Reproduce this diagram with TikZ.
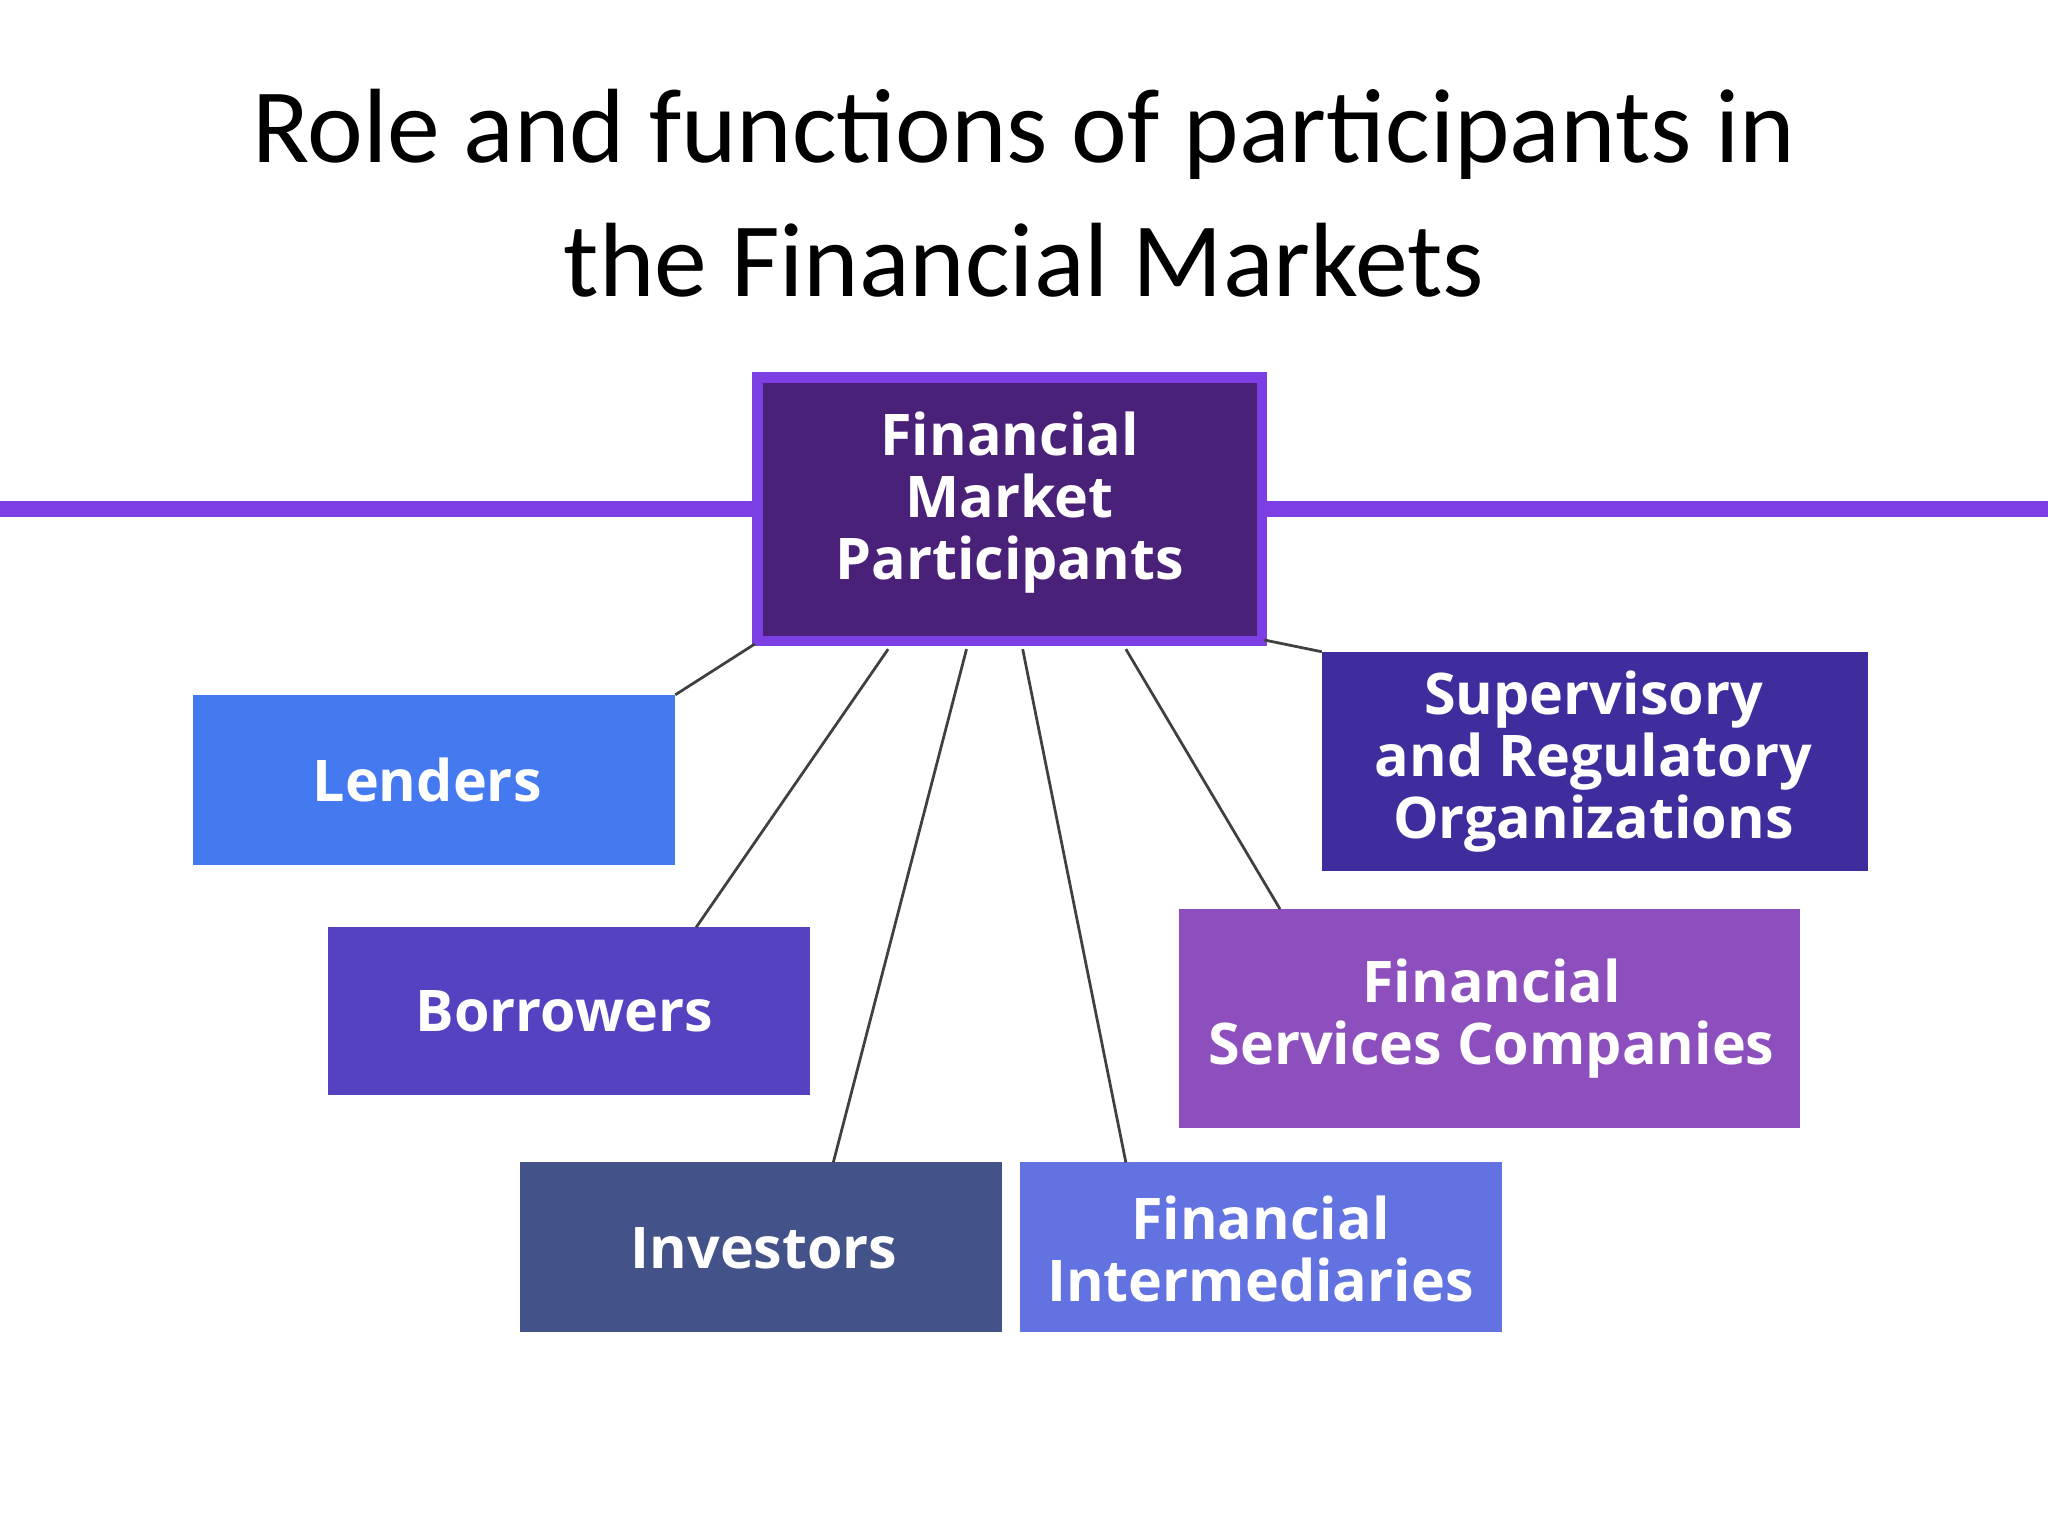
\documentclass[tikz,border=0pt]{standalone}
\usepackage{fontspec}
\setmainfont{Carlito}
\newfontfamily\boxfont{Open Sans}
\definecolor{cTop}{HTML}{4A2178}
\definecolor{cTopB}{HTML}{7B3FE4}
\definecolor{cLend}{HTML}{4479F0}
\definecolor{cBorr}{HTML}{5442C0}
\definecolor{cInv}{HTML}{435288}
\definecolor{cInt}{HTML}{6272E0}
\definecolor{cServ}{HTML}{8D4FBE}
\definecolor{cSup}{HTML}{3F2D9E}
\begin{document}
\begin{tikzpicture}[x=0.01cm,y=-0.01cm,
  pbox/.style={draw=none,text=white,font=\boxfont\bfseries\fontsize{12.5}{13.5}\selectfont,align=center,inner sep=0pt},
  link/.style={draw=black!75,line width=0.6pt}]
\useasboundingbox (0,0) rectangle (1568,1176);
\fill[white] (0,0) rectangle (1568,1176);
\node[font=\fontsize{23}{29}\selectfont,align=center] (title) at (784,148) {Role and functions of participants in\\the Financial Markets};
% boxes
\node[pbox,fill=cTop,draw=cTopB,line width=2.5pt,minimum width=390\pgflinewidth] (top) at (773,390) {};
\fill[cTop] (578,287) rectangle (968,493);
\draw[cTopB,line width=2.2pt] (580,289) rectangle (966,491);
\node[pbox] (topt) at (773,385) {Financial\\Market\\Participants};
\coordinate (tl) at (578,493);
\coordinate (t1) at (680,497);
\coordinate (t2) at (740,497);
\coordinate (t3) at (783,497);
\coordinate (t4) at (862,497);
\coordinate (tr) at (968,490);
\fill[cLend] (148,532) rectangle (517,662);
\node[pbox] (lend) at (327,597) {Lenders};
\fill[cBorr] (251,710) rectangle (620,838);
\node[pbox] (borr) at (432,774) {Borrowers};
\fill[cInv] (398,890) rectangle (767,1020);
\node[pbox] (inv) at (585,956) {Investors};
\fill[cInt] (781,890) rectangle (1150,1020);
\node[pbox] (int) at (965,956) {Financial\\Intermediaries};
\fill[cServ] (903,696) rectangle (1378,864);
\node[pbox] (serv) at (1142,780) {Financial\\Services Companies};
\fill[cSup] (1012,499) rectangle (1430,667);
\node[pbox] (sup) at (1220,583) {Supervisory\\and Regulatory\\Organizations};
\coordinate (lendc) at (517,532);
\coordinate (borrc) at (533,710);
\coordinate (invc) at (638,890);
\coordinate (intc) at (862,890);
\coordinate (servc) at (980,696);
\coordinate (supc) at (1012,499);
\draw[link] (tl) -- (lendc);
\draw[link] (t1) -- (borrc);
\draw[link] (t2) -- (invc);
\draw[link] (t3) -- (intc);
\draw[link] (t4) -- (servc);
\draw[link] (tr) -- (supc);
\end{tikzpicture}
\end{document}
